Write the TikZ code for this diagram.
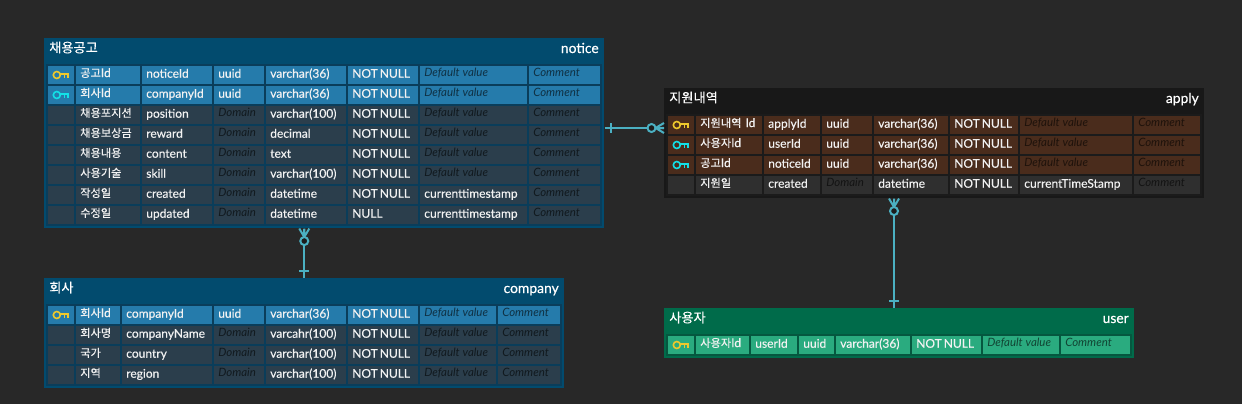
\documentclass[tikz,border=0pt]{standalone}
\usepackage{fontspec}
\setmainfont{Lato}[UprightFeatures={FakeBold=0.3}]
\newfontfamily\krfont{Noto Sans CJK KR}[FakeBold=0.3]
\definecolor{bgcol}{HTML}{282828}
\definecolor{bluehead}{HTML}{024B6E}
\definecolor{bluegrid}{HTML}{0A3D5A}
\definecolor{bluekey}{HTML}{257BAB}
\definecolor{bluerow}{HTML}{2B3E4C}
\definecolor{blackhead}{HTML}{181818}
\definecolor{blackgrid}{HTML}{1B1B1B}
\definecolor{brownkey}{HTML}{4A2C1C}
\definecolor{blackrow}{HTML}{2F2F2F}
\definecolor{greenhead}{HTML}{006B4A}
\definecolor{greengrid}{HTML}{05573F}
\definecolor{greenkey}{HTML}{2AAB7F}
\definecolor{linkcol}{HTML}{4BB0C2}
\definecolor{keyyellow}{HTML}{EFC82C}
\definecolor{keycyan}{HTML}{12E0E6}
\newcommand{\ko}[1]{{\fontsize{8.4}{10}\krfont #1}}
\newcommand{\hinttext}[1]{\raisebox{1.1pt}{\fontsize{8.6}{10}\selectfont\itshape\color{\rowfill!40!black}#1}}
\newcommand{\Dom}{\hinttext{Domain}}
\newcommand{\Dfl}{\hinttext{Default\hspace{-0.8pt} value}}
\newcommand{\Com}{\hinttext{Comment}}
\newcommand{\NN}{NOT\hspace{-1.5pt} NULL}
\newcommand{\VC}{varchar(36)}
\newcommand{\VL}{varchar(100)}
\newcommand{\setcols}[9]{\def\xa{#1}\def\xb{#2}\def\xc{#3}\def\xd{#4}\def\xe{#5}\def\xf{#6}\def\xg{#7}\def\xh{#8}\def\xi{#9}}
\newcommand{\cell}[6]{\node[cellbox,fill=\rowfill,text width={(#3-(#2))*0.75pt-6pt},#5] (#1) at (#2,#4) {\mbox{#6}};}
\newcommand{\drawrows}[3]{%
\foreach \rowfill/\ckey/\cname/\cfield/\cdomain/\ctype/\cnull/\cdefault/\ccomment [count=\i] in {#3} {
  \pgfmathsetmacro\rowy{#2+20*(\i-1)}
  \cell{#1-\i-key}{\xa}{\xb}{\rowy}{}{}
  \cell{#1-\i-name}{\xb+2}{\xc}{\rowy}{namecell}{\cname}
  \cell{#1-\i-field}{\xc+2}{\xd}{\rowy}{}{\cfield}
  \cell{#1-\i-domain}{\xd+2}{\xe}{\rowy}{}{\cdomain}
  \cell{#1-\i-type}{\xe+2}{\xf}{\rowy}{}{\ctype}
  \cell{#1-\i-null}{\xf+2}{\xg}{\rowy}{}{\cnull}
  \cell{#1-\i-default}{\xg+2}{\xh}{\rowy}{}{\cdefault}
  \cell{#1-\i-comment}{\xh+2}{\xi}{\rowy}{}{\ccomment}
  \pic[draw=\ckey] at (\xa+8.8,\rowy+9) {keyicon};
}}
\begin{document}
\begin{tikzpicture}[x=0.75pt,y=-0.75pt]
\tikzset{
  tablebox/.style={anchor=north west, inner sep=0pt},
  cellbox/.style={anchor=north west, inner xsep=3pt, inner ysep=0pt, text height=8.6pt, text depth=4.9pt, text=white!95!black, font=\fontsize{9}{10}\selectfont, align=left},
  namecell/.style={text height=8.1pt, text depth=5.4pt},
  titleko/.style={anchor=west, inner sep=0pt, text=white, font=\fontsize{9.9}{12}\krfont},
  titleen/.style={anchor=base east, inner sep=0pt, text=white, font=\fontsize{10.4}{12}\selectfont},
  link/.style={draw=linkcol, line width=1.5pt},
  keyicon/.pic={
    \draw[pic actions, line width=1.2pt] (0,0) circle (3.5);
    \draw[pic actions, line width=1.2pt] (3.6,-1) -- (11.2,-1) -- (11.2,2.8) (7.6,-1) -- (7.6,2.8);
  },
  zeromany/.pic={
    \draw[link, fill=bgcol!70!black] (-12.5,0) circle (4);
    \draw[link] (-8.5,0) -- (0,-5) (-8.5,0) -- (0,0) (-8.5,0) -- (0,5);
  },
}
\fill[bgcol] (0,0) rectangle (1242,404);

% tables
\node[tablebox, fill=bluehead, minimum width=420pt, minimum height=142.5pt] (notice) at (44,38) {};
\node[tablebox, fill=bluegrid, minimum width=417pt, minimum height=121.5pt] (noticeGrid) at (46,64) {};
\node[tablebox, fill=bluehead, minimum width=390pt, minimum height=82.5pt] (company) at (44,278) {};
\node[tablebox, fill=bluegrid, minimum width=387pt, minimum height=61.5pt] (companyGrid) at (46,304) {};
\node[tablebox, fill=blackhead, minimum width=405pt, minimum height=82.5pt] (apply) at (664,88) {};
\node[tablebox, fill=blackgrid, minimum width=402pt, minimum height=61.5pt] (applyGrid) at (666,114) {};
\node[tablebox, fill=greenhead, minimum width=352.5pt, minimum height=37.5pt] (user) at (664,308) {};
\node[tablebox, fill=greengrid, minimum width=349.5pt, minimum height=16.5pt] (userGrid) at (666,334) {};

% titles
\node[titleko] (noticeKo) at (49,47.5) {채용공고};
\node[titleen] (noticeEn) at (599,53) {notice};
\node[titleko] (companyKo) at (49,287.5) {회사};
\node[titleen] (companyEn) at (559,293) {company};
\node[titleko] (applyKo) at (669,97.5) {지원내역};
\node[titleen] (applyEn) at (1199,103) {apply};
\node[titleko] (userKo) at (669,317.5) {사용자};
\node[titleen] (userEn) at (1129,323) {user};

% rows
\setcols{48}{74}{140}{212}{264}{346}{418}{527}{600}
\drawrows{notice}{66}{
  bluekey/keyyellow/\ko{공고}Id/noticeId/uuid/\VC/\NN/\Dfl/\Com,
  bluekey/keycyan/\ko{회사}Id/companyId/uuid/\VC/\NN/\Dfl/\Com,
  bluerow/none/\ko{채용포지션}/position/\Dom/\VL/\NN/\Dfl/\Com,
  bluerow/none/\ko{채용보상금}/reward/\Dom/decimal/\NN/\Dfl/\Com,
  bluerow/none/\ko{채용내용}/content/\Dom/text/\NN/\Dfl/\Com,
  bluerow/none/\ko{사용기술}/skill/\Dom/\VL/\NN/\Dfl/\Com,
  bluerow/none/\ko{작성일}/created/\Dom/datetime/\NN/currenttimestamp/\Com,
  bluerow/none/\ko{수정일}/updated/\Dom/datetime/NULL/currenttimestamp/\Com}
\setcols{48}{74}{120}{212}{264}{346}{418}{496}{560}
\drawrows{company}{306}{
  bluekey/keyyellow/\ko{회사}Id/companyId/uuid/\VC/\NN/\Dfl/\Com,
  bluerow/none/\ko{회사명}/companyName/\Dom/varcahr(100)/\NN/\Dfl/\Com,
  bluerow/none/\ko{국가}/country/\Dom/\VL/\NN/\Dfl/\Com,
  bluerow/none/\ko{지역}/region/\Dom/\VL/\NN/\Dfl/\Com}
\setcols{668}{694}{762}{820}{872}{948}{1018}{1132}{1200}
\drawrows{apply}{116}{
  brownkey/keyyellow/\ko{지원내역} Id/applyId/uuid/\VC/\NN/\Dfl/\Com,
  brownkey/keycyan/\ko{사용자}Id/userId/uuid/\VC/\NN/\Dfl/\Com,
  brownkey/keycyan/\ko{공고}Id/noticeId/uuid/\VC/\NN/\Dfl/\Com,
  blackrow/none/\ko{지원일}/created/\Dom/datetime/\NN/currentTimeStamp/\Com}
\setcols{668}{694}{749}{797}{834}{910}{981}{1059}{1130}
\drawrows{user}{336}{
  greenkey/keyyellow/\ko{사용자}Id/userId/uuid/\VC/\NN/\Dfl/\Com}

% connectors
\coordinate (linkY) at (0,128);
\coordinate (linkX) at (894,0);
\draw[link] (notice.east |- linkY) -- (apply.west |- linkY);
\draw[link] (610.5,123) -- (610.5,133);
\pic at (apply.west |- linkY) {zeromany};
\draw[link] (company.north) -- (company.north |- notice.south);
\draw[link] (299,271) -- (309,271);
\pic[rotate=90] at (company.north |- notice.south) {zeromany};
\draw[link] (user.north -| linkX) -- (apply.south -| linkX);
\draw[link] (889,301) -- (899,301);
\pic[rotate=90] at (apply.south -| linkX) {zeromany};
\end{tikzpicture}
\end{document}
